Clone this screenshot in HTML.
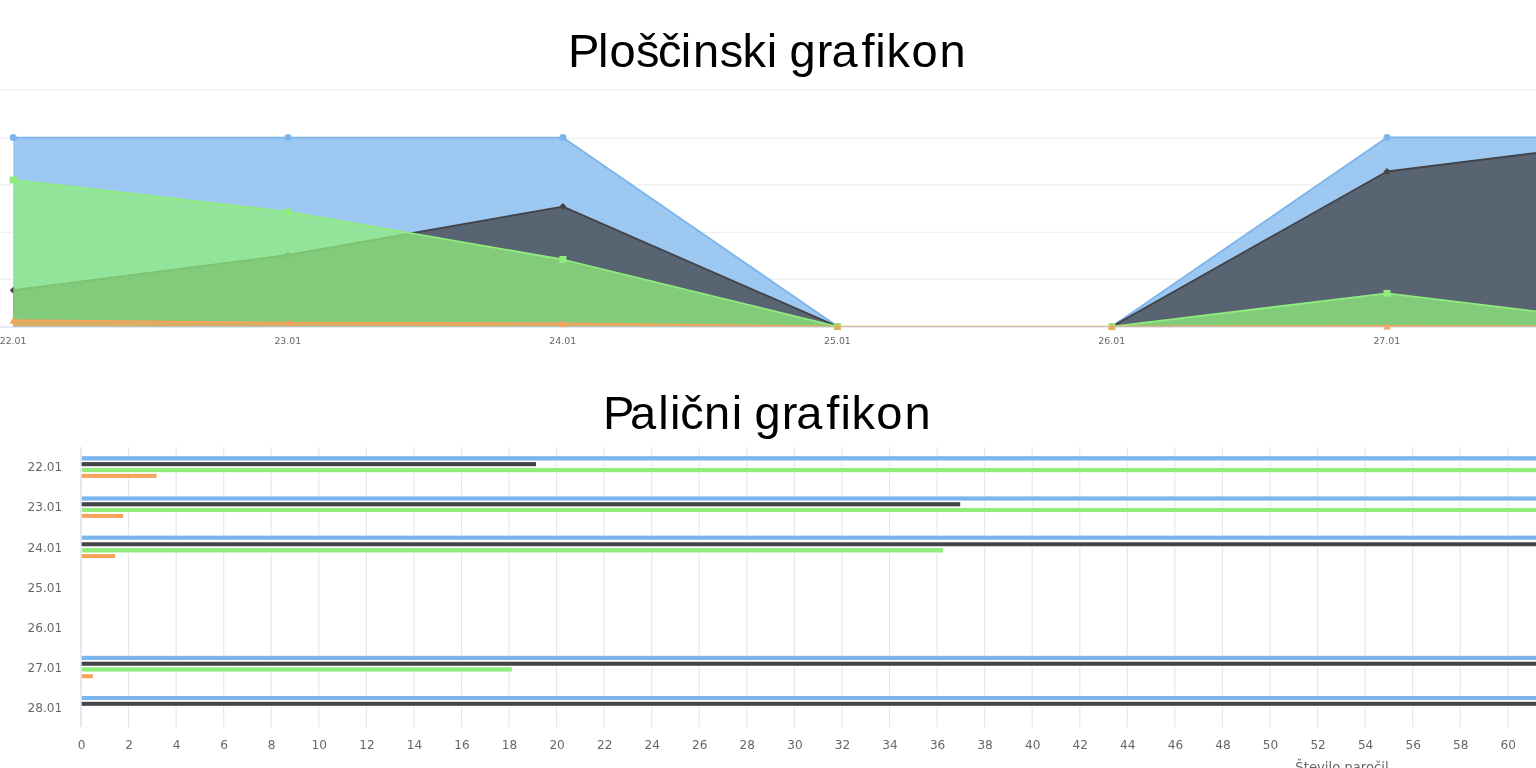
<!DOCTYPE html>
<html lang="sl"><head><meta charset="utf-8"><title>Grafikoni</title>
<style>
html,body{margin:0;padding:0;background:#fff;overflow:hidden}
body{width:1536px;height:768px}
svg{display:block}
text{font-family:"DejaVu Sans","Liberation Sans",sans-serif;fill:#666}
.title{font-family:"Liberation Sans",sans-serif;font-size:47px;fill:#000}
.xl text{font-size:9.4px}
.yl text,.bl text{font-size:12.1px}
.at{font-size:13.2px}
</style></head><body>
<svg width="1536" height="768" viewBox="0 0 1536 768">
<defs><clipPath id="plotclip"><rect x="0" y="0" width="1536" height="326.6"/></clipPath></defs>
<g id="area-grid">
<rect x="0" y="89.00" width="1536" height="1.2" fill="#eeeeee"/>
<rect x="0" y="137.50" width="1536" height="1.2" fill="#eeeeee"/>
<rect x="0" y="184.30" width="1536" height="1.2" fill="#eeeeee"/>
<rect x="0" y="231.70" width="1536" height="1.2" fill="#eeeeee"/>
<rect x="0" y="278.60" width="1536" height="1.2" fill="#eeeeee"/>
<rect x="0" y="326.60" width="1536" height="1.0" fill="#ccd6eb"/>
</g>
<g id="area-series">
<g clip-path="url(#plotclip)"><path d="M13.25,326.6 L13.25,137.60 L288.00,137.60 L562.90,137.60 L837.60,326.60 L1111.90,326.60 L1387.00,137.40 L1661.80,137.40 L1661.80,326.6 Z" fill="#7cb5ec" fill-opacity="0.75"/>
<polyline points="13.25,137.60 288.00,137.60 562.90,137.60 837.60,326.60 1111.90,326.60 1387.00,137.40 1661.80,137.40" fill="none" stroke="#7cb5ec" stroke-width="1.8" stroke-linejoin="round" stroke-linecap="round"/></g>

<circle cx="13.25" cy="137.60" r="3.5" fill="#7cb5ec"/><circle cx="288.00" cy="137.60" r="3.5" fill="#7cb5ec"/><circle cx="562.90" cy="137.60" r="3.5" fill="#7cb5ec"/><circle cx="837.60" cy="326.60" r="3.5" fill="#7cb5ec"/><circle cx="1111.90" cy="326.60" r="3.5" fill="#7cb5ec"/><circle cx="1387.00" cy="137.40" r="3.5" fill="#7cb5ec"/><circle cx="1661.80" cy="137.40" r="3.5" fill="#7cb5ec"/>

<g clip-path="url(#plotclip)"><path d="M13.25,326.6 L13.25,290.20 L288.00,255.00 L562.90,206.60 L837.60,326.60 L1111.90,326.60 L1387.00,171.50 L1661.80,137.40 L1661.80,326.6 Z" fill="#434348" fill-opacity="0.75"/>
<polyline points="13.25,290.20 288.00,255.00 562.90,206.60 837.60,326.60 1111.90,326.60 1387.00,171.50 1661.80,137.40" fill="none" stroke="#434348" stroke-width="1.8" stroke-linejoin="round" stroke-linecap="round"/></g>

<path d="M13.25,286.70 L16.75,290.20 L13.25,293.70 L9.75,290.20 Z" fill="#434348"/><path d="M288.00,251.50 L291.50,255.00 L288.00,258.50 L284.50,255.00 Z" fill="#434348"/><path d="M562.90,203.10 L566.40,206.60 L562.90,210.10 L559.40,206.60 Z" fill="#434348"/><path d="M837.60,323.10 L841.10,326.60 L837.60,330.10 L834.10,326.60 Z" fill="#434348"/><path d="M1111.90,323.10 L1115.40,326.60 L1111.90,330.10 L1108.40,326.60 Z" fill="#434348"/><path d="M1387.00,168.00 L1390.50,171.50 L1387.00,175.00 L1383.50,171.50 Z" fill="#434348"/><path d="M1661.80,133.90 L1665.30,137.40 L1661.80,140.90 L1658.30,137.40 Z" fill="#434348"/>

<g clip-path="url(#plotclip)"><path d="M13.25,326.6 L13.25,179.90 L288.00,211.90 L562.90,259.50 L837.60,326.60 L1111.90,326.60 L1387.00,293.40 L1661.80,326.60 L1661.80,326.6 Z" fill="#90ed7d" fill-opacity="0.75"/>
<polyline points="13.25,179.90 288.00,211.90 562.90,259.50 837.60,326.60 1111.90,326.60 1387.00,293.40 1661.80,326.60" fill="none" stroke="#90ed7d" stroke-width="1.8" stroke-linejoin="round" stroke-linecap="round"/></g>

<rect x="9.75" y="176.40" width="7.0" height="7.0" fill="#90ed7d"/><rect x="284.50" y="208.40" width="7.0" height="7.0" fill="#90ed7d"/><rect x="559.40" y="256.00" width="7.0" height="7.0" fill="#90ed7d"/><rect x="834.10" y="323.10" width="7.0" height="7.0" fill="#90ed7d"/><rect x="1108.40" y="323.10" width="7.0" height="7.0" fill="#90ed7d"/><rect x="1383.50" y="289.90" width="7.0" height="7.0" fill="#90ed7d"/><rect x="1658.30" y="323.10" width="7.0" height="7.0" fill="#90ed7d"/>

<g clip-path="url(#plotclip)"><path d="M13.25,326.6 L13.25,320.20 L288.00,322.60 L562.90,323.40 L837.60,326.60 L1111.90,326.60 L1387.00,326.00 L1661.80,326.60 L1661.80,326.6 Z" fill="#f7a35c" fill-opacity="0.75"/>
<polyline points="13.25,320.20 288.00,322.60 562.90,323.40 837.60,326.60 1111.90,326.60 1387.00,326.00 1661.80,326.60" fill="none" stroke="#f7a35c" stroke-width="1.8" stroke-linejoin="round" stroke-linecap="round"/></g>

<path d="M13.25,316.70 L16.75,323.70 L9.75,323.70 Z" fill="#f7a35c"/><path d="M288.00,319.10 L291.50,326.10 L284.50,326.10 Z" fill="#f7a35c"/><path d="M562.90,319.90 L566.40,326.90 L559.40,326.90 Z" fill="#f7a35c"/><path d="M837.60,323.10 L841.10,330.10 L834.10,330.10 Z" fill="#f7a35c"/><path d="M1111.90,323.10 L1115.40,330.10 L1108.40,330.10 Z" fill="#f7a35c"/><path d="M1387.00,322.50 L1390.50,329.50 L1383.50,329.50 Z" fill="#f7a35c"/><path d="M1661.80,323.10 L1665.30,330.10 L1658.30,330.10 Z" fill="#f7a35c"/>

<g id="flat"><rect x="841.1" y="325" width="267.3" height="1" fill="#f6e6d0"/><rect x="841.1" y="326" width="267.3" height="1" fill="#dcbfa3"/><rect x="841.1" y="327" width="267.3" height="1" fill="#e8e8f0"/></g>
</g>
<g class="xl">
<text x="13.1" y="343.5" text-anchor="middle">22.01</text>
<text x="287.8" y="343.5" text-anchor="middle">23.01</text>
<text x="562.7" y="343.5" text-anchor="middle">24.01</text>
<text x="837.4" y="343.5" text-anchor="middle">25.01</text>
<text x="1111.7" y="343.5" text-anchor="middle">26.01</text>
<text x="1386.8" y="343.5" text-anchor="middle">27.01</text>
<text x="1661.6" y="343.5" text-anchor="middle">28.01</text>
</g>
<g id="bar-grid">
<rect x="128.01" y="447.2" width="1.1" height="280.0" fill="#e6e6e6"/>
<rect x="175.57" y="447.2" width="1.1" height="280.0" fill="#e6e6e6"/>
<rect x="223.13" y="447.2" width="1.1" height="280.0" fill="#e6e6e6"/>
<rect x="270.69" y="447.2" width="1.1" height="280.0" fill="#e6e6e6"/>
<rect x="318.25" y="447.2" width="1.1" height="280.0" fill="#e6e6e6"/>
<rect x="365.81" y="447.2" width="1.1" height="280.0" fill="#e6e6e6"/>
<rect x="413.37" y="447.2" width="1.1" height="280.0" fill="#e6e6e6"/>
<rect x="460.93" y="447.2" width="1.1" height="280.0" fill="#e6e6e6"/>
<rect x="508.49" y="447.2" width="1.1" height="280.0" fill="#e6e6e6"/>
<rect x="556.05" y="447.2" width="1.1" height="280.0" fill="#e6e6e6"/>
<rect x="603.61" y="447.2" width="1.1" height="280.0" fill="#e6e6e6"/>
<rect x="651.17" y="447.2" width="1.1" height="280.0" fill="#e6e6e6"/>
<rect x="698.73" y="447.2" width="1.1" height="280.0" fill="#e6e6e6"/>
<rect x="746.29" y="447.2" width="1.1" height="280.0" fill="#e6e6e6"/>
<rect x="793.85" y="447.2" width="1.1" height="280.0" fill="#e6e6e6"/>
<rect x="841.41" y="447.2" width="1.1" height="280.0" fill="#e6e6e6"/>
<rect x="888.97" y="447.2" width="1.1" height="280.0" fill="#e6e6e6"/>
<rect x="936.53" y="447.2" width="1.1" height="280.0" fill="#e6e6e6"/>
<rect x="984.09" y="447.2" width="1.1" height="280.0" fill="#e6e6e6"/>
<rect x="1031.65" y="447.2" width="1.1" height="280.0" fill="#e6e6e6"/>
<rect x="1079.21" y="447.2" width="1.1" height="280.0" fill="#e6e6e6"/>
<rect x="1126.77" y="447.2" width="1.1" height="280.0" fill="#e6e6e6"/>
<rect x="1174.33" y="447.2" width="1.1" height="280.0" fill="#e6e6e6"/>
<rect x="1221.89" y="447.2" width="1.1" height="280.0" fill="#e6e6e6"/>
<rect x="1269.45" y="447.2" width="1.1" height="280.0" fill="#e6e6e6"/>
<rect x="1317.01" y="447.2" width="1.1" height="280.0" fill="#e6e6e6"/>
<rect x="1364.57" y="447.2" width="1.1" height="280.0" fill="#e6e6e6"/>
<rect x="1412.13" y="447.2" width="1.1" height="280.0" fill="#e6e6e6"/>
<rect x="1459.69" y="447.2" width="1.1" height="280.0" fill="#e6e6e6"/>
<rect x="1507.25" y="447.2" width="1.1" height="280.0" fill="#e6e6e6"/>
<rect x="80.45" y="447.2" width="1.1" height="280.0" fill="#ccd6eb"/>
</g>
<g id="bars">
<rect x="81.00" y="455.50" width="1519.60" height="5.70" fill="#fff"/>
<rect x="81.60" y="456.20" width="1518.40" height="4.30" fill="#7cb5ec"/>
<rect x="81.00" y="461.40" width="455.60" height="5.50" fill="#fff"/>
<rect x="81.60" y="462.10" width="454.40" height="4.10" fill="#434348"/>
<rect x="81.00" y="467.20" width="1519.60" height="5.70" fill="#fff"/>
<rect x="81.60" y="467.90" width="1518.40" height="4.30" fill="#90ed7d"/>
<rect x="81.00" y="473.15" width="76.20" height="5.45" fill="#fff"/>
<rect x="81.60" y="473.85" width="75.00" height="4.05" fill="#f7a35c"/>
<rect x="81.00" y="495.70" width="1519.60" height="5.60" fill="#fff"/>
<rect x="81.60" y="496.40" width="1518.40" height="4.20" fill="#7cb5ec"/>
<rect x="81.00" y="501.50" width="879.80" height="5.55" fill="#fff"/>
<rect x="81.60" y="502.20" width="878.60" height="4.15" fill="#434348"/>
<rect x="81.00" y="507.20" width="1519.60" height="5.55" fill="#fff"/>
<rect x="81.60" y="507.90" width="1518.40" height="4.15" fill="#90ed7d"/>
<rect x="81.00" y="513.20" width="42.60" height="5.40" fill="#fff"/>
<rect x="81.60" y="513.90" width="41.40" height="4.00" fill="#f7a35c"/>
<rect x="81.00" y="534.90" width="1519.60" height="5.55" fill="#fff"/>
<rect x="81.60" y="535.60" width="1518.40" height="4.15" fill="#7cb5ec"/>
<rect x="81.00" y="541.55" width="1519.60" height="5.40" fill="#fff"/>
<rect x="81.60" y="542.25" width="1518.40" height="4.00" fill="#434348"/>
<rect x="81.00" y="547.40" width="862.60" height="5.80" fill="#fff"/>
<rect x="81.60" y="548.10" width="861.40" height="4.40" fill="#90ed7d"/>
<rect x="81.00" y="553.40" width="34.60" height="5.40" fill="#fff"/>
<rect x="81.60" y="554.10" width="33.40" height="4.00" fill="#f7a35c"/>
<rect x="81.00" y="655.10" width="1519.60" height="5.60" fill="#fff"/>
<rect x="81.60" y="655.80" width="1518.40" height="4.20" fill="#7cb5ec"/>
<rect x="81.00" y="661.00" width="1519.60" height="5.45" fill="#fff"/>
<rect x="81.60" y="661.70" width="1518.40" height="4.05" fill="#434348"/>
<rect x="81.00" y="666.55" width="431.40" height="5.75" fill="#fff"/>
<rect x="81.60" y="667.25" width="430.20" height="4.35" fill="#90ed7d"/>
<rect x="81.00" y="673.50" width="12.50" height="5.50" fill="#fff"/>
<rect x="81.60" y="674.20" width="11.30" height="4.10" fill="#f7a35c"/>
<rect x="81.00" y="695.30" width="1519.60" height="5.40" fill="#fff"/>
<rect x="81.60" y="696.00" width="1518.40" height="4.00" fill="#7cb5ec"/>
<rect x="81.00" y="701.10" width="1519.60" height="5.40" fill="#fff"/>
<rect x="81.60" y="701.80" width="1518.40" height="4.00" fill="#434348"/>
</g>
<g class="yl">
<text x="62.2" y="471.3" text-anchor="end">22.01</text>
<text x="62.2" y="511.4" text-anchor="end">23.01</text>
<text x="62.2" y="551.5" text-anchor="end">24.01</text>
<text x="62.2" y="591.6" text-anchor="end">25.01</text>
<text x="62.2" y="631.7" text-anchor="end">26.01</text>
<text x="62.2" y="671.8" text-anchor="end">27.01</text>
<text x="62.2" y="711.9" text-anchor="end">28.01</text>
</g>
<g class="bl">
<text x="81.5" y="749.1" text-anchor="middle">0</text>
<text x="129.1" y="749.1" text-anchor="middle">2</text>
<text x="176.6" y="749.1" text-anchor="middle">4</text>
<text x="224.2" y="749.1" text-anchor="middle">6</text>
<text x="271.7" y="749.1" text-anchor="middle">8</text>
<text x="319.3" y="749.1" text-anchor="middle">10</text>
<text x="366.9" y="749.1" text-anchor="middle">12</text>
<text x="414.4" y="749.1" text-anchor="middle">14</text>
<text x="462.0" y="749.1" text-anchor="middle">16</text>
<text x="509.5" y="749.1" text-anchor="middle">18</text>
<text x="557.1" y="749.1" text-anchor="middle">20</text>
<text x="604.7" y="749.1" text-anchor="middle">22</text>
<text x="652.2" y="749.1" text-anchor="middle">24</text>
<text x="699.8" y="749.1" text-anchor="middle">26</text>
<text x="747.3" y="749.1" text-anchor="middle">28</text>
<text x="794.9" y="749.1" text-anchor="middle">30</text>
<text x="842.5" y="749.1" text-anchor="middle">32</text>
<text x="890.0" y="749.1" text-anchor="middle">34</text>
<text x="937.6" y="749.1" text-anchor="middle">36</text>
<text x="985.1" y="749.1" text-anchor="middle">38</text>
<text x="1032.7" y="749.1" text-anchor="middle">40</text>
<text x="1080.3" y="749.1" text-anchor="middle">42</text>
<text x="1127.8" y="749.1" text-anchor="middle">44</text>
<text x="1175.4" y="749.1" text-anchor="middle">46</text>
<text x="1222.9" y="749.1" text-anchor="middle">48</text>
<text x="1270.5" y="749.1" text-anchor="middle">50</text>
<text x="1318.1" y="749.1" text-anchor="middle">52</text>
<text x="1365.6" y="749.1" text-anchor="middle">54</text>
<text x="1413.2" y="749.1" text-anchor="middle">56</text>
<text x="1460.7" y="749.1" text-anchor="middle">58</text>
<text x="1508.3" y="749.1" text-anchor="middle">60</text>
</g>
<text class="at" x="1342" y="772.2" text-anchor="middle">Število naročil</text>
<text class="title" x="567.9 597.9 609.5 635.9 658.0 680.8 693.1 719.7 742.4 766.8 777.3 789.6 816.8 831.6 861.4 875.2 886.6 911.4 939.4" y="66.5">Ploščinski grafikon</text>
<text class="title" x="603.0 629.9 658.3 670.0 680.2 703.9 731.7 742.1 754.6 781.8 796.3 826.2 840.5 851.6 876.2 904.5" y="428.6">Palični grafikon</text>
</svg>
</body></html>
